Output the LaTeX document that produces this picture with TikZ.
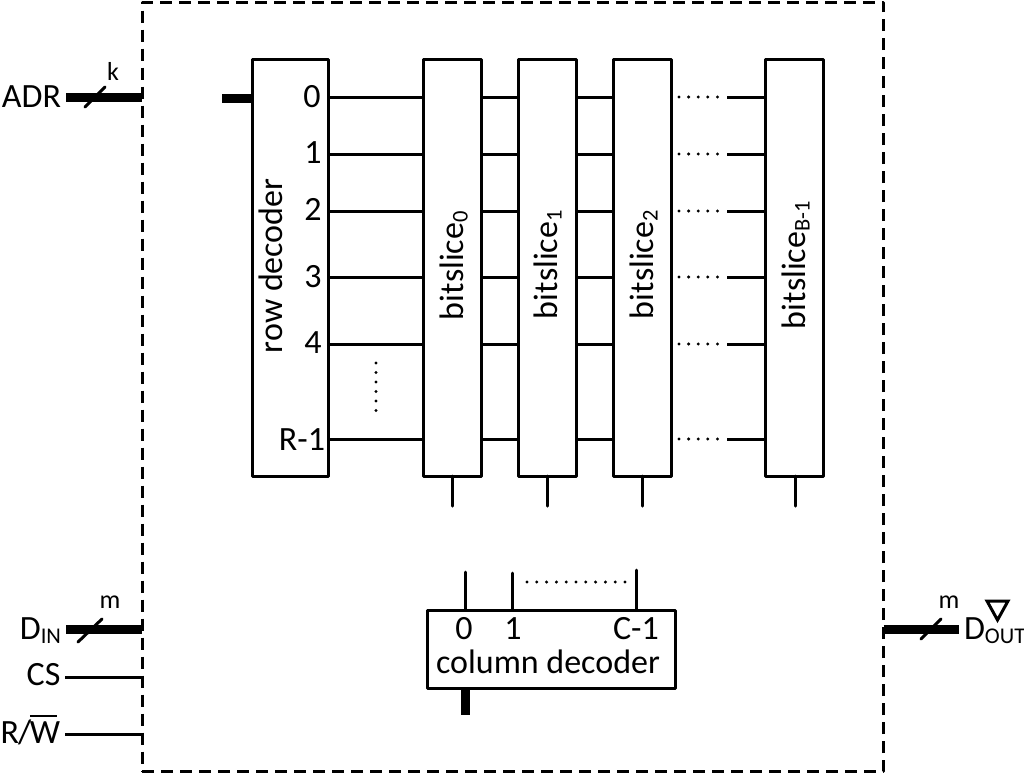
\documentclass[tikz,border=0pt]{standalone}
\usepackage{fontspec}
\setmainfont{Carlito}
\newcommand{\bigf}{\fontsize{34}{37}\selectfont}
\newcommand{\smallf}{\fontsize{26}{28}\selectfont}
\newcommand{\lowsub}[1]{\raisebox{-4.5pt}{\fontsize{22.5}{24}\selectfont #1}}
\tikzset{
  thin wire/.style={line width=3pt,line cap=butt},
  bus/.style={line width=9pt,line cap=butt},
  tick/.style={line width=3pt,line cap=round},
  dotline/.style={line width=3.3pt,line cap=round,dash pattern=on 0pt off 9.6pt},
  frame/.style={draw,line width=3pt,line join=round,dash pattern=on 12pt off 7pt},
  blockbox/.style={draw,line width=3pt,line join=round,fill=white,inner sep=0pt,outer sep=0pt},
  txt/.style={font=\bigf,inner sep=0pt,outer sep=0pt},
  small txt/.style={font=\smallf,inner sep=0pt,outer sep=0pt}
}
\begin{document}
\begin{tikzpicture}[x=1pt,y=-1pt]
\useasboundingbox (0,0) rectangle (1024,774);
% outer dashed frame
\node[frame,inner sep=0pt,outer sep=0pt,minimum width=741.5pt,minimum height=769.5pt] (chip) at (512.75,386.75) {};
% blocks
\node[blockbox,minimum width=76.5pt,minimum height=417pt] (rd) at (290.25,267.5) {};
\node[blockbox,minimum width=58pt,minimum height=417pt] (b0) at (452,267.5) {};
\node[blockbox,minimum width=58pt,minimum height=417pt] (b1) at (547,267.5) {};
\node[blockbox,minimum width=58pt,minimum height=417pt] (b2) at (642,267.5) {};
\node[blockbox,minimum width=58pt,minimum height=417pt] (b3) at (794,267.5) {};
\node[blockbox,minimum width=248pt,minimum height=78pt] (cd) at (551,649) {};
% word lines
\foreach \n/\y in {a/97,b/154,c/211,d/277,e/344,f/439}{
  \coordinate (w\n) at (0,\y);
  \coordinate (g\n) at (727,\y);
  \coordinate (h\n) at (679,\y);
  \coordinate (i\n) at (722,\y);
  \draw[thin wire] (rd.east |- w\n) -- (b0.west |- w\n);
  \draw[thin wire] (b0.east |- w\n) -- (b1.west |- w\n);
  \draw[thin wire] (b1.east |- w\n) -- (b2.west |- w\n);
  \draw[thin wire] (g\n) -- (b3.west |- w\n);
  \draw[dotline] (h\n) -- (i\n);
}
% vertical dots between row lines
\coordinate (vd1) at (376,363);
\coordinate (vd2) at (376,412);
\draw[dotline,dash pattern=on 0pt off 9.5pt] (vd1) -- (vd2);
% bitslice stubs
\foreach \b in {b0,b1,b2}{
  \coordinate (\b s) at ([yshift=-30pt]\b.south);
  \draw[tick] (\b.south) -- (\b s);
}
\coordinate (b3s) at ([xshift=1pt,yshift=-30pt]b3.south);
\draw[tick] ([xshift=1pt]b3.south) -- (b3s);
% row decoder address stub
\coordinate (rdin) at (222,98.5);
\draw[bus] (rdin) -- (rd.west |- rdin);
% column decoder wires
\coordinate (c0) at (465,572);
\coordinate (c1) at (512.5,573);
\coordinate (c2) at (636,570);
\draw[tick] (c0) -- (c0 |- cd.north);
\draw[tick] (c1) -- (c1 |- cd.north);
\draw[tick] (c2) -- (c2 |- cd.north);
\coordinate (cd1) at (527,582);
\coordinate (cd2) at (626,582);
\draw[dotline,dash pattern=on 0pt off 9.8pt] (cd1) -- (cd2);
\coordinate (cdin) at (465,715);
\draw[bus] (cdin |- cd.south) -- (cdin);
% ports
\coordinate (adr) at (66,97);
\draw[bus] (adr) -- (chip.west |- adr);
\coordinate (adrt1) at (85,107);
\coordinate (adrt2) at (105,87);
\draw[tick] (adrt1) -- (adrt2);
\coordinate (din) at (66,629);
\draw[bus] (din) -- (chip.west |- din);
\coordinate (dint1) at (78,642);
\coordinate (dint2) at (102,619);
\draw[tick] (dint1) -- (dint2);
\coordinate (cs) at (65,677);
\draw[thin wire] (cs) -- (chip.west |- cs);
\coordinate (rw) at (65,734);
\draw[thin wire] (rw) -- (chip.west |- rw);
\coordinate (dout) at (959,629);
\draw[bus] (chip.east |- dout) -- (dout);
\coordinate (doutt1) at (921,639);
\coordinate (doutt2) at (941,619);
\draw[tick] (doutt1) -- (doutt2);
\coordinate (tri1) at (987,601);
\coordinate (tri2) at (1008,601);
\coordinate (tri3) at (997.5,620);
\draw[line width=3pt,line join=miter] (tri1) -- (tri2) -- (tri3) -- cycle;
% labels
\node[txt,anchor=base east] (ladr) at (61,107) {ADR};
\node[small txt] (lk) at (113,71) {k};
\node[small txt] (lm1) at (110,602) {m};
\node[small txt] (lm2) at (949,602) {m};
\node[txt,anchor=base east] (ldin) at (61,639) {D\lowsub{IN}};
\node[txt,anchor=base east] (lcs) at (60.5,685) {CS};
\node[txt,anchor=base east] (lrw) at (60,743) {R\kern-1pt/\kern-1.5pt\rlap{\rule[26pt]{27pt}{2.5pt}}W};
\node[txt,anchor=base west] (ldout) at (964,639) {D\lowsub{OUT}};
\node[txt,anchor=base] (r0) at (312,107) {0};
\node[txt,anchor=base] (r1) at (313,163.5) {1};
\node[txt,anchor=base] (r2) at (313,220.5) {2};
\node[txt,anchor=base] (r3) at (313,287) {3};
\node[txt,anchor=base] (r4) at (313,353.5) {4};
\node[txt,anchor=base east] (r5) at (325,450) {R-1};
\node[txt,rotate=90,anchor=base west] (lrd) at (282,353) {row decoder};
\node[txt,rotate=90,anchor=base west] (l0) at (463,320) {bitslice\lowsub{0}};
\node[txt,rotate=90,anchor=base west] (l1) at (557,319) {bitslice\lowsub{1}};
\node[txt,rotate=90,anchor=base west] (l2) at (653,319) {bitslice\lowsub{2}};
\node[txt,rotate=90,anchor=base west] (l3) at (805,329) {bitslice\lowsub{B-1}};
\node[txt,anchor=base] (c0l) at (464,639) {0};
\node[txt,anchor=base] (c1l) at (513,639) {1};
\node[txt,anchor=base] (c2l) at (636,639) {C-1};
\node[txt,anchor=base] (cdl) at (548,673) {column decoder};
\end{tikzpicture}
\end{document}
